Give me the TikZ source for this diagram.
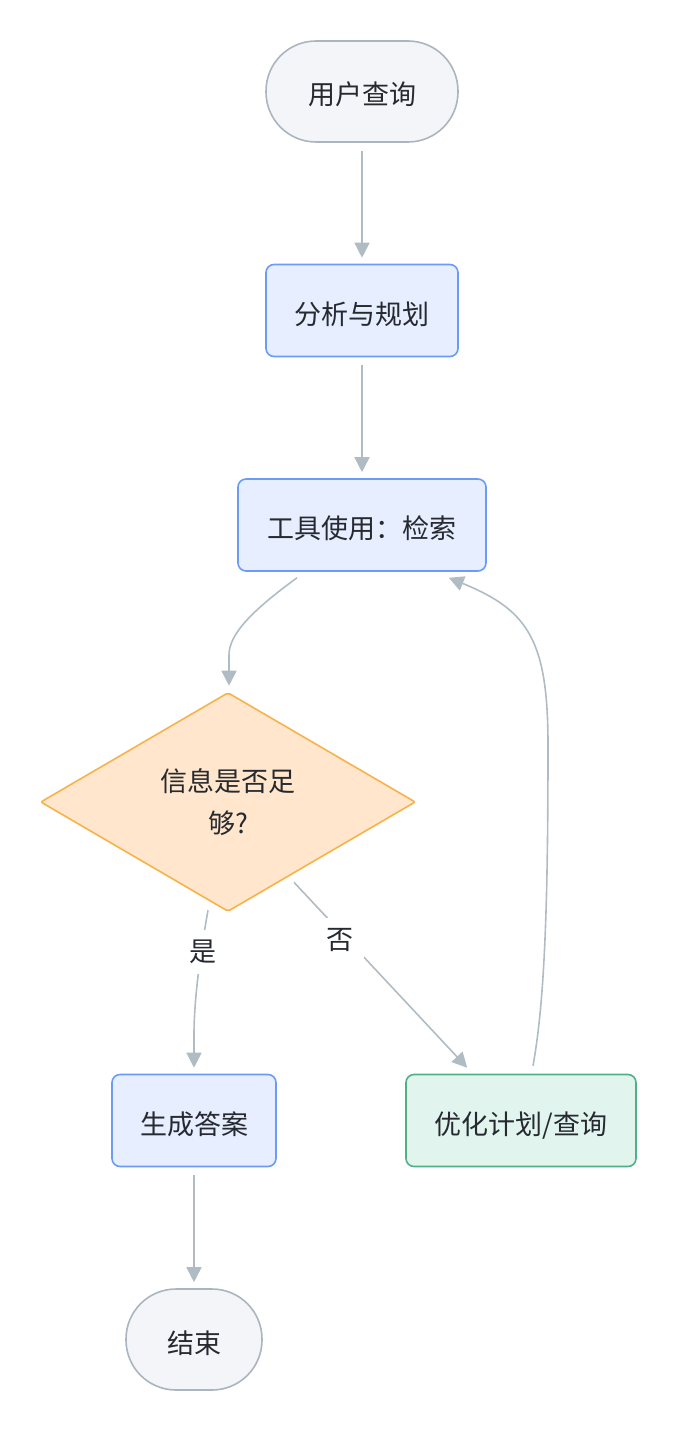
\documentclass[tikz,border=0pt]{standalone}
\usepackage{fontspec}
\setmainfont{Noto Sans CJK SC}
\usetikzlibrary{shapes.geometric,arrows.meta,calc}
\definecolor{edgec}{HTML}{B0BCC4}
\definecolor{txt}{HTML}{262A30}
\definecolor{termfill}{HTML}{F3F5F9}
\definecolor{termdraw}{HTML}{AAB5BF}
\definecolor{procfill}{HTML}{E6EEFF}
\definecolor{procdraw}{HTML}{6B9CF5}
\definecolor{decfill}{HTML}{FFE6CC}
\definecolor{decdraw}{HTML}{F8B24A}
\definecolor{grnfill}{HTML}{E1F5EE}
\definecolor{grndraw}{HTML}{4FB08A}
\begin{document}
\begin{tikzpicture}[x=1pt,y=-1pt,
  every node/.style={text=txt,font=\fontsize{27}{40}\selectfont},
  term/.style={draw=termdraw,fill=termfill,line width=1.6pt,rounded corners=50pt,minimum height=101pt,inner sep=0pt,text depth=0pt,text height=27pt},
  proc/.style={draw=procdraw,fill=procfill,line width=1.6pt,rounded corners=8pt,minimum height=92pt,inner sep=0pt,text depth=0pt,text height=27pt},
  grn/.style={draw=grndraw,fill=grnfill,line width=1.6pt,rounded corners=8pt,minimum height=92pt,inner sep=0pt,text depth=0pt,text height=27pt},
  dec/.style={diamond,draw=decdraw,fill=decfill,line width=1.6pt,aspect=1.7,minimum width=375pt,minimum height=219pt,inner sep=0pt,rounded corners=2pt},
  conn/.style={draw=edgec,line width=1.6pt,-{Triangle[length=15pt,width=15pt]}},
  lbl/.style={fill=white,inner sep=10pt}]
\useasboundingbox (0,0) rectangle (677,1431);
\node[term,minimum width=192pt] (q) at (362,91.5) {用户查询};
\node[proc,minimum width=192pt] (plan) at (362,310.5) {分析与规划};
\node[proc,minimum width=248pt] (tool) at (362,525) {工具使用：检索};
\node[dec] (dia) at (228,802) {\raisebox{-3pt}{\parbox{145pt}{\centering\fontsize{27}{42}\selectfont 信息是否足\\够?}}};
\node[proc,minimum width=164pt] (gen) at (194,1120.5) {生成答案};
\node[grn,minimum width=230pt] (opt) at (521,1120.5) {优化计划/查询};
\node[term,minimum width=136pt] (end) at (194,1339.5) {结束};

\draw[conn] ($(q.south)+(0,8)$) -- ($(plan.north)+(0,-6)$);
\draw[conn] ($(plan.south)+(0,8)$) -- ($(tool.north)+(0,-6)$);
\draw[conn] ($(tool.south)+(-65,6)$) .. controls (250,612) and (229,635) .. (229,655) -- ($(dia.north)+(1,-6)$);
\draw[conn] ($(dia.south)+(-20,-2)$) .. controls (200,955) and (194,1000) .. (194,1035) -- ($(gen.north)+(0,-6)$);
\draw[conn] ($(dia.south)+(66,-30)$) -- ($(opt.north west)+(62,-6)$);
\draw[conn] ($(opt.north)+(12,-8)$) .. controls (545,1000) and (548,900) .. (548,745) .. controls (548,640) and (528,610) .. ($(tool.south east)+(-38,6)$);
\draw[conn] ($(gen.south)+(0,8)$) -- ($(end.north)+(0,-6)$);

\node[lbl] (lyes) at (203,952) {是};
\node[lbl] (lno) at (340,940) {否};
\end{tikzpicture}
\end{document}
